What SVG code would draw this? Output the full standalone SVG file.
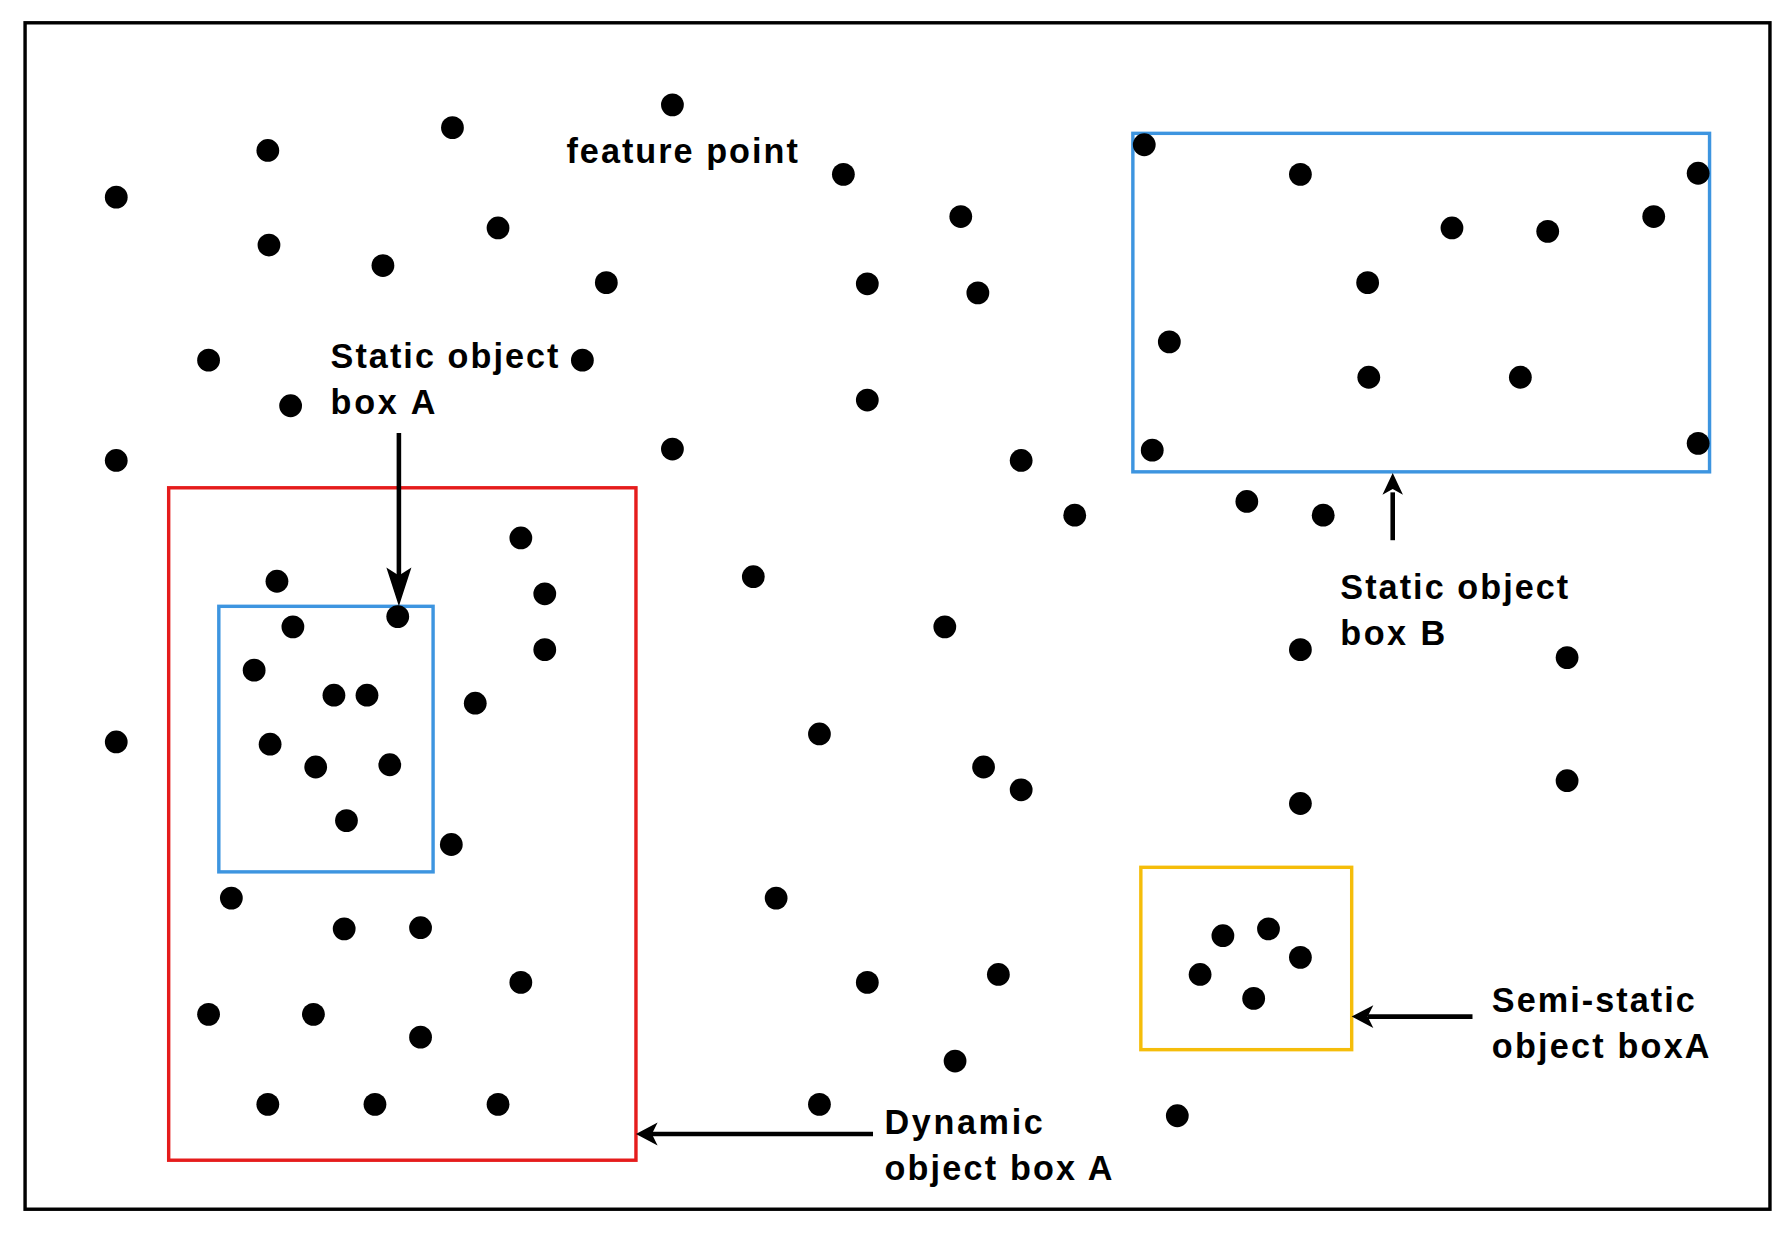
<svg xmlns="http://www.w3.org/2000/svg" width="1787" height="1237" viewBox="0 0 1787 1237">
<defs>
<style>
.t{font-family:"Liberation Sans",Arial,sans-serif;font-weight:bold;font-size:30px;fill:#000}
.d{fill:#000}
.c{stroke:#000;stroke-width:4;fill:none}
.h{fill:#000}
</style>
</defs>
<rect width="1787" height="1237" fill="#fff"/>
<g transform="scale(1.1397)">
<rect id="frame" x="22" y="20" width="1531" height="1041" fill="none" stroke="#000" stroke-width="3"/>
<g id="dynamicA"><rect x="148" y="428" width="410" height="590" fill="none" stroke="#e51c1c" stroke-width="3"/></g>
<g id="staticA"><rect x="192" y="532" width="188" height="233" fill="none" stroke="#3d95e0" stroke-width="3"/></g>
<g id="staticB"><rect x="994" y="117" width="506" height="297" fill="none" stroke="#3d95e0" stroke-width="3"/></g>
<g id="semiA"><rect x="1001" y="761" width="185" height="160" fill="none" stroke="#f5bd0a" stroke-width="3"/></g>
<g id="points" class="d">
<circle cx="590" cy="92" r="10"/><circle cx="397" cy="112" r="10"/><circle cx="235" cy="132" r="10"/><circle cx="102" cy="173" r="10"/>
<circle cx="740" cy="153" r="10"/><circle cx="843" cy="190" r="10"/><circle cx="236" cy="215" r="10"/><circle cx="437" cy="200" r="10"/>
<circle cx="336" cy="233" r="10"/><circle cx="532" cy="248" r="10"/><circle cx="761" cy="249" r="10"/><circle cx="858" cy="257" r="10"/>
<circle cx="183" cy="316" r="10"/><circle cx="511" cy="316" r="10"/><circle cx="255" cy="356" r="10"/><circle cx="761" cy="351" r="10"/>
<circle cx="102" cy="404" r="10"/><circle cx="590" cy="394" r="10"/><circle cx="896" cy="404" r="10"/><circle cx="943" cy="452" r="10"/>
<circle cx="1004" cy="127" r="10"/><circle cx="1141" cy="153" r="10"/><circle cx="1490" cy="152" r="10"/><circle cx="1274" cy="200" r="10"/>
<circle cx="1358" cy="203" r="10"/><circle cx="1451" cy="190" r="10"/><circle cx="1200" cy="248" r="10"/><circle cx="1026" cy="300" r="10"/>
<circle cx="1201" cy="331" r="10"/><circle cx="1334" cy="331" r="10"/><circle cx="1011" cy="395" r="10"/><circle cx="1490" cy="389" r="10"/>
<circle cx="1094" cy="440" r="10"/><circle cx="1161" cy="452" r="10"/>
<circle cx="457" cy="472" r="10"/><circle cx="243" cy="510" r="10"/><circle cx="478" cy="521" r="10"/><circle cx="257" cy="550" r="10"/>
<circle cx="349" cy="541" r="10"/><circle cx="478" cy="570" r="10"/><circle cx="223" cy="588" r="10"/><circle cx="293" cy="610" r="10"/>
<circle cx="322" cy="610" r="10"/><circle cx="417" cy="617" r="10"/><circle cx="102" cy="651" r="10"/><circle cx="237" cy="653" r="10"/>
<circle cx="277" cy="673" r="10"/><circle cx="342" cy="671" r="10"/><circle cx="304" cy="720" r="10"/><circle cx="396" cy="741" r="10"/>
<circle cx="203" cy="788" r="10"/><circle cx="302" cy="815" r="10"/><circle cx="369" cy="814" r="10"/><circle cx="457" cy="862" r="10"/>
<circle cx="183" cy="890" r="10"/><circle cx="275" cy="890" r="10"/><circle cx="369" cy="910" r="10"/><circle cx="235" cy="969" r="10"/>
<circle cx="329" cy="969" r="10"/><circle cx="437" cy="969" r="10"/>
<circle cx="661" cy="506" r="10"/><circle cx="829" cy="550" r="10"/><circle cx="719" cy="644" r="10"/><circle cx="863" cy="673" r="10"/>
<circle cx="896" cy="693" r="10"/><circle cx="681" cy="788" r="10"/><circle cx="761" cy="862" r="10"/><circle cx="876" cy="855" r="10"/>
<circle cx="838" cy="931" r="10"/><circle cx="719" cy="969" r="10"/><circle cx="1033" cy="979" r="10"/>
<circle cx="1141" cy="570" r="10"/><circle cx="1375" cy="577" r="10"/><circle cx="1141" cy="705" r="10"/><circle cx="1375" cy="685" r="10"/>
<circle cx="1073" cy="821" r="10"/><circle cx="1113" cy="815" r="10"/><circle cx="1141" cy="840" r="10"/><circle cx="1053" cy="855" r="10"/>
<circle cx="1100" cy="876" r="10"/>
</g>
<g id="connectors">
<line class="c" x1="350" y1="380" x2="350" y2="510"/>
<path class="h" d="M350,532 L339,498 L350,505 L361,498 Z"/>
<line class="c" x1="1222" y1="474" x2="1222" y2="432"/>
<path class="h" d="M1222,415 L1213,434 L1222,429 L1231,434 Z"/>
<line class="c" x1="1292" y1="892" x2="1200" y2="892"/>
<path class="h" d="M1186,892 L1205,882 L1200,892 L1205,902 Z"/>
<line class="c" x1="766" y1="995" x2="572" y2="995"/>
<path class="h" d="M558,995 L577,985 L572,995 L577,1005 Z"/>
</g>
<g id="labels">
<text class="t" x="497" y="143" textLength="203">feature point</text>
<text class="t" x="290" y="323" textLength="200">Static object</text><text class="t" x="290" y="363" textLength="92">box A</text>
<text class="t" x="1176" y="526" textLength="200">Static object</text><text class="t" x="1176" y="566" textLength="92">box B</text>
<text class="t" x="1309" y="888" textLength="178">Semi-static</text><text class="t" x="1309" y="928" textLength="191">object boxA</text>
<text class="t" x="776" y="995" textLength="139">Dynamic</text><text class="t" x="776" y="1035" textLength="200">object box A</text>
</g>
</g>
</svg>
